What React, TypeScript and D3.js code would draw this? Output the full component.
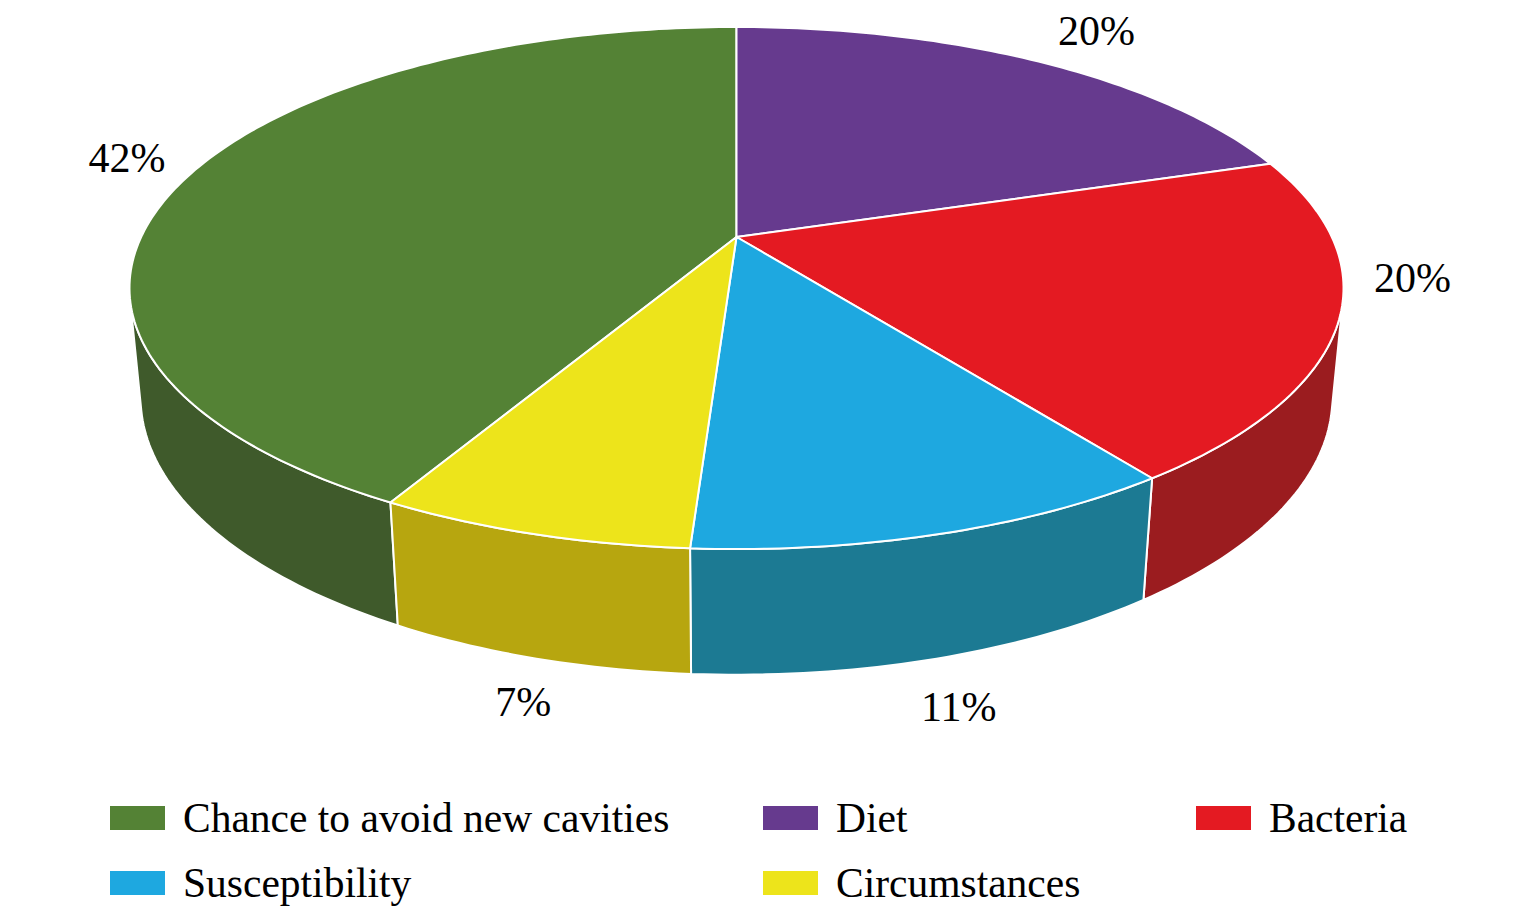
import React from 'react';
import * as d3 from 'd3';

const categories = ['Chance to avoid new cavities', 'Diet', 'Bacteria', 'Susceptibility', 'Circumstances'];
const values = [42, 20, 20, 11, 7];
const topColors = ['#548235', '#663A8E', '#E41A22', '#1EA8E0', '#EDE41B'];
const sideColors = ['#3F5A2B', '#4A2A68', '#9B1C1F', '#1C7A93', '#B7A60F'];

// camera used to project the 3D disc onto the page
const view = { cx: 736.5, cy: 237, fx: 2767, fy: 2789, dist: 4.648, tilt: Math.asin(0.4184), depth: 0.2 };
const labelRadius = 1.12;
const labelNudges: [number, number][] = [[3, -13], [27, -13], [-4, -52], [-8, 1], [17, -4]];
const legendCols = [110, 763, 1196];
const legendRows = [806, 871];
const fontFamily = "'Liberation Serif', 'Times New Roman', Times, serif";

const project = (theta: number, r: number, y: number): [number, number] => {
    const X = r * Math.sin(theta);
    const Z = -r * Math.cos(theta);
    const c = Math.cos(view.tilt);
    const s = Math.sin(view.tilt);
    const yc = y * c - Z * s;
    const zc = view.dist - (Z * c + y * s);
    return [view.cx + (view.fx * X) / zc, view.cy - (view.fy * yc) / zc];
};

const sampleArc = (a0: number, a1: number, y: number): [number, number][] => {
    const n = Math.max(2, Math.ceil(((a1 - a0) / (2 * Math.PI)) * 360));
    return d3.range(n + 1).map(i => project(a0 + ((a1 - a0) * i) / n, 1, y));
};

const App: React.FC = () => {
    const startAngle = 2 * Math.PI * (1 - values[0] / d3.sum(values));
    const pie = d3.pie<number>().sort(null).startAngle(startAngle).endAngle(startAngle + 2 * Math.PI);
    const arcs = pie(values);
    const line = d3.line().curve(d3.curveLinearClosed);

    // outer wall is front facing between these angles
    const visLo = Math.acos(-1 / (view.dist * Math.cos(view.tilt)));
    const visHi = 2 * Math.PI - visLo;

    const walls = arcs.map((a, i) => {
        const a0 = a.startAngle % (2 * Math.PI);
        const a1 = a0 + (a.endAngle - a.startAngle);
        const lo = Math.max(a0, visLo);
        const hi = Math.min(a1, visHi);
        if (lo >= hi) return null;
        const pts = [...sampleArc(lo, hi, 0), ...sampleArc(lo, hi, -view.depth).reverse()];
        return <path key={'w' + i} d={line(pts) || ''} fill={sideColors[i]} stroke="#fff" strokeWidth={2} strokeLinejoin="round" />;
    });

    const tops = arcs.map((a, i) => {
        const pts = [project(0, 0, 0), ...sampleArc(a.startAngle, a.endAngle, 0)];
        return <path key={'t' + i} d={line(pts) || ''} fill={topColors[i]} stroke="#fff" strokeWidth={2} strokeLinejoin="round" />;
    });

    const total = d3.sum(values);
    const labels = arcs.map((a, i) => {
        const mid = (a.startAngle + a.endAngle) / 2;
        const y = Math.cos(mid) < -0.5 ? -view.depth : 0;
        const [x0, y0] = project(mid, labelRadius, y);
        return (
            <text key={'l' + i} x={x0 + labelNudges[i][0]} y={y0 + labelNudges[i][1]} dy="0.34em"
                textAnchor="middle" fontFamily={fontFamily} fontSize={42} fill="#000">
                {`${Math.round((values[i] / total) * 100)}%`}
            </text>
        );
    });

    const legend = categories.map((name, i) => {
        const x = legendCols[i % 3];
        const y = legendRows[Math.floor(i / 3)];
        return (
            <g key={'g' + i} transform={`translate(${x},${y})`}>
                <rect width={55} height={24} fill={topColors[i]} />
                <text x={73} y={26} fontFamily={fontFamily} fontSize={41.5} fill="#000">{name}</text>
            </g>
        );
    });

    return (
        <svg width={1522} height={921} style={{ position: 'fixed', left: 0, top: 0, background: '#fff' }}>
            {walls}
            {tops}
            {labels}
            {legend}
        </svg>
    );
};

export default App;
